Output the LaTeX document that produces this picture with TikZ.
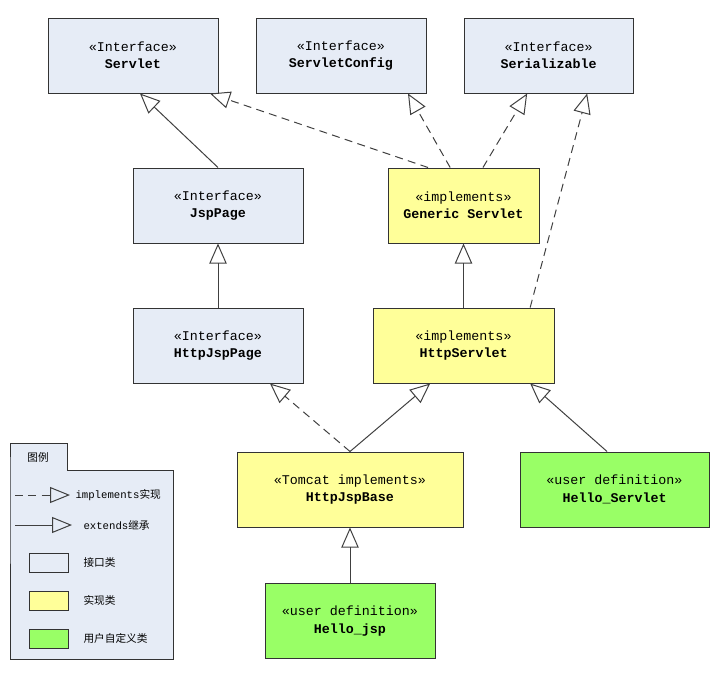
\documentclass[tikz,border=0pt]{standalone}
\usepackage{fontspec}
\setmainfont{Liberation Mono}
\newfontfamily\cjk{Noto Sans CJK SC}
\usetikzlibrary{arrows.meta}
\definecolor{ifacefill}{RGB}{230,236,246}
\definecolor{implfill}{RGB}{255,255,153}
\definecolor{userfill}{RGB}{153,255,102}
\tikzset{every picture/.style={line width=0.75pt}}
\tikzset{
  cls/.style={draw=black!80, minimum height=56.25pt, font=\fontsize{10}{13}\selectfont, align=center, inner sep=0pt},
  iface/.style={cls, fill=ifacefill},
  impl/.style={cls, fill=implfill},
  user/.style={cls, fill=userfill},
  ext/.style={-{Triangle[open,length=15pt,width=13pt]}, black!75},
  imp/.style={ext, dash pattern=on 6pt off 4pt}
}
\begin{document}
\begin{tikzpicture}[x=0.75pt,y=0.75pt,yscale=-1,xscale=1]
\useasboundingbox (0,0) rectangle (727,689);

% interfaces
\node [iface, minimum width=127.5pt] (servlet) at (133,55.5) {<<Interface>>\\\textbf{Servlet}};
\node [iface, minimum width=127.5pt] (config) at (341,55.5) {<<Interface>>\\\textbf{ServletConfig}};
\node [iface, minimum width=126.75pt] (serial) at (548.5,55.5) {<<Interface>>\\\textbf{Serializable}};
\node [iface, minimum width=127.5pt] (jsppage) at (218,205.5) {<<Interface>>\\\textbf{JspPage}};
\node [iface, minimum width=127.5pt] (httpjsppage) at (218,345.5) {<<Interface>>\\\textbf{HttpJspPage}};

% implementations
\node [impl, minimum width=113.25pt] (generic) at (463.5,205.5) {<<implements>>\\\textbf{Generic Servlet}};
\node [impl, minimum width=135.75pt] (httpservlet) at (463.5,345.5) {<<implements>>\\\textbf{HttpServlet}};
\node [impl, minimum width=169.5pt] (jspbase) at (350,489.5) {<<Tomcat implements>>\\\textbf{HttpJspBase}};

% user classes
\node [user, minimum width=141.75pt] (helloservlet) at (614.5,489.5) {<<user definition>>\\\textbf{Hello\_Servlet}};
\node [user, minimum width=127.5pt] (hellojsp) at (350,621) {<<user definition>>\\\textbf{Hello\_jsp}};

% connectors
\draw [ext] (jsppage.north) -- ([xshift=5.25pt]servlet.south);
\draw [imp] ([xshift=-26.6pt]generic.north) -- ([xshift=57.75pt]servlet.south);
\draw [imp] ([xshift=-10pt]generic.north) -- ([xshift=50.25pt]config.south);
\draw [imp] ([xshift=14.6pt]generic.north) -- ([xshift=-16pt]serial.south);
\draw [imp] ([xshift=50pt]httpservlet.north) -- ([xshift=29pt]serial.south);
\draw [ext] (httpservlet.north) -- (generic.south);
\draw [ext] (httpjsppage.north) -- (jsppage.south);
\draw [imp] (jspbase.north) -- ([xshift=39pt]httpjsppage.south);
\draw [ext] (jspbase.north) -- ([xshift=-25pt]httpservlet.south);
\draw [ext] ([xshift=-5.6pt]helloservlet.north) -- ([xshift=50pt]httpservlet.south);
\draw [ext] (hellojsp.north) -- (jspbase.south);

% legend
\draw [draw=black!80, fill=ifacefill] (10,470) -- (10,443) -- (67,443) -- (67,470) -- (173,470) -- (173,659) -- (10,659) -- cycle;
\node [font=\cjk\fontsize{8}{10}\selectfont] (lgtitle) at (38,457) {图例};
\coordinate (la1) at (15,495); \coordinate (lb1) at (70,495);
\coordinate (la2) at (15,525); \coordinate (lb2) at (72,525);
\draw [imp, -{Triangle[open,length=15pt,width=12pt]}] (la1) -- (lb1);
\draw [ext, -{Triangle[open,length=15pt,width=12pt]}] (la2) -- (lb2);
\node [anchor=west, font=\fontsize{8}{10}\selectfont, inner sep=0pt] (lgimp) at (75,495) {implements{\cjk 实现}};
\node [anchor=west, font=\fontsize{8}{10}\selectfont, inner sep=0pt] (lgext) at (83,525) {extends{\cjk 继承}};
\draw [draw=black!80, fill=ifacefill] (29,553) rectangle (68,572);
\draw [draw=black!80, fill=implfill] (29,591) rectangle (68,610);
\draw [draw=black!80, fill=userfill] (29,629) rectangle (68,648);
\node [anchor=west, font=\cjk\fontsize{8}{10}\selectfont, inner sep=0pt] (lgiface) at (83,562) {接口类};
\node [anchor=west, font=\cjk\fontsize{8}{10}\selectfont, inner sep=0pt] (lgimpl) at (83,600) {实现类};
\node [anchor=west, font=\cjk\fontsize{8}{10}\selectfont, inner sep=0pt] (lguser) at (83,638) {用户自定义类};
\end{tikzpicture}
\end{document}
